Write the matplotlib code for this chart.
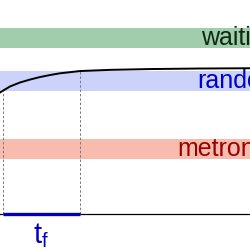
import numpy as np
import matplotlib
matplotlib.use("Agg")
import matplotlib.pyplot as plt

plt.rcParams['font.family'] = ['Liberation Sans', 'DejaVu Sans']
plt.rcParams['mathtext.fontset'] = 'custom'
plt.rcParams['mathtext.rm'] = 'Liberation Sans'
plt.rcParams['mathtext.it'] = 'Liberation Sans'

# saturating response curve (time in units of t_f)
curve_t = [-0.035, 0.094, 0.224, 0.353, 0.483, 0.612, 0.741, 1.0, 1.39, 1.91, 2.55, 3.2]
curve_y = [0.914, 0.959, 0.989, 1.011, 1.030, 1.045, 1.058, 1.075, 1.084, 1.090, 1.094, 1.096]

# horizontal bands: label, level, band colour, text colour
band_labels = ["waiting", "random", "metronome"]
band_levels = [1.323, 1.0, 0.489]
band_colors = ["#a2cdad", "#ccd3fb", "#f7bcae"]
text_colors = ["#0b2a10", "#0000cc", "#990000"]
text_x = [2.565, 2.515, 2.255]

t_f = 1.0
half = 0.074

fig = plt.figure(figsize=(2.5, 2.5), dpi=100)
ax = fig.add_axes([0, 0, 1, 1])
ax.set_xlim(-0.035, 3.2)
ax.set_ylim(-0.27, 1.609)
ax.axis('off')

for lab, lev, bc, tc, tx in zip(band_labels, band_levels, band_colors, text_colors, text_x):
    ax.axhspan(lev - half, lev + half, color=bc, lw=0, zorder=1)
    ax.text(tx, lev - half + 0.022, lab, color=tc, fontsize=18,
            va='baseline', ha='left', zorder=3)

# baseline and t_f interval
ax.plot([-0.035, 3.2], [0, 0], color='black', lw=0.9, zorder=2)
ax.plot([0, t_f], [0, 0], color='#0000bb', lw=2.4, solid_capstyle='butt', zorder=3)

# dashed markers
y0 = np.interp(0, curve_t, curve_y)
y1 = np.interp(t_f, curve_t, curve_y)
ax.plot([0, 0], [0, y0], color='#777777', lw=0.7, ls=(0, (2.5, 2)), zorder=2)
ax.plot([t_f, t_f], [0, y1], color='#777777', lw=0.7, ls=(0, (2.5, 2)), zorder=2)

ax.plot(curve_t, curve_y, color='black', lw=1.4, zorder=4)

ax.text(t_f / 2, -0.055, r'$\mathregular{t_f}$', color='#0000bb', fontsize=21,
        ha='center', va='top')

fig.savefig('out.png', dpi=100)
